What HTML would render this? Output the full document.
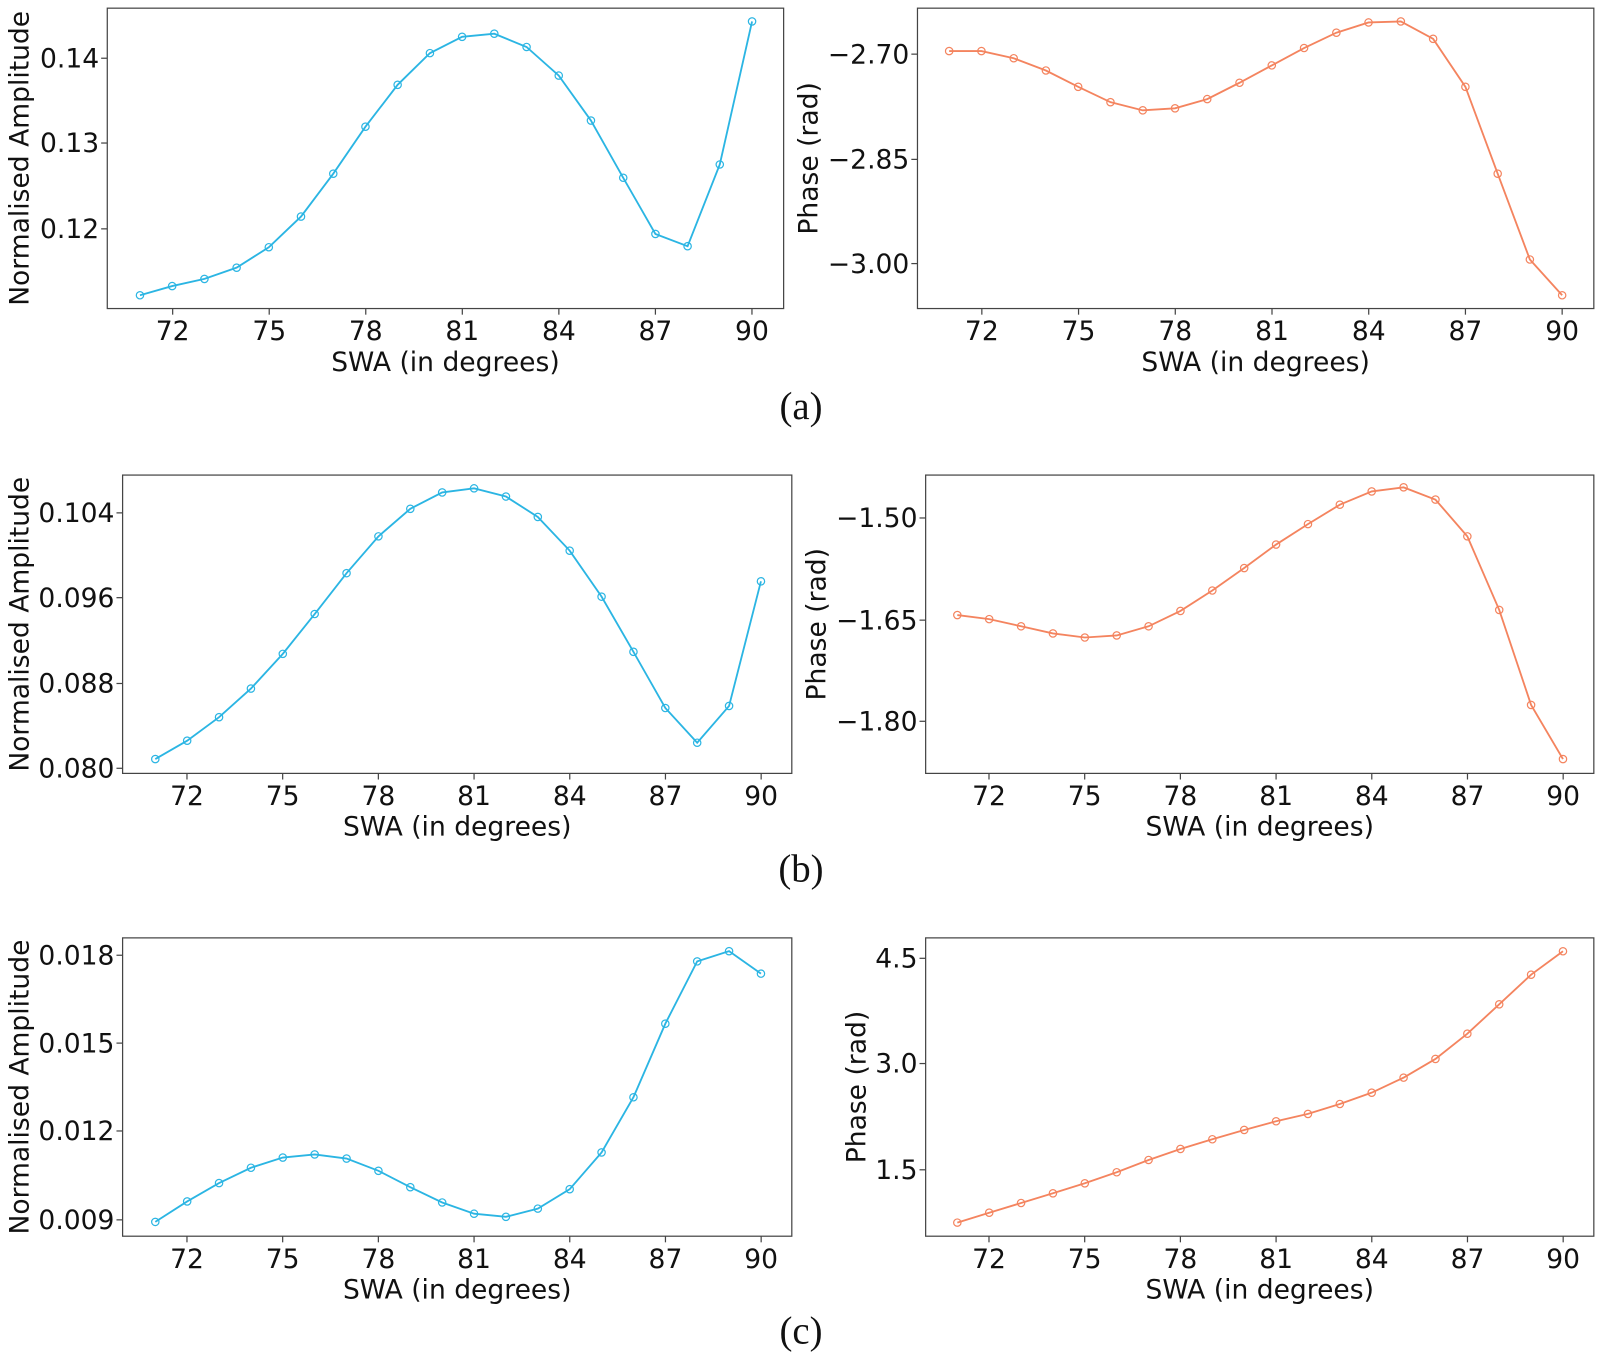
<!DOCTYPE html>
<html><head><meta charset="utf-8"><style>
html,body{margin:0;padding:0;background:#fff;}
svg{display:block;}
text{font-family:"DejaVu Sans","Liberation Sans",sans-serif;fill:#111;}
</style></head><body>
<svg id="s" width="1602" height="1354" viewBox="0 0 1568 1325.3" preserveAspectRatio="none" xmlns="http://www.w3.org/2000/svg"></svg>
<script>
const S=document.getElementById('s');let h='';
function panel(p){
 const {x0,x1,y0,y1,px0,step,ys,col,xt72,xt90,yt,ylab,ylx}=p;
 h+=`<rect x="${x0}" y="${y0}" width="${x1-x0}" height="${y1-y0}" fill="none" stroke="#444" stroke-width="1.2"/>`;
 for(let i=0;i<7;i++){const v=72+3*i;const x=xt72+(xt90-xt72)*i/6;
  h+=`<line x1="${x}" y1="${y1}" x2="${x}" y2="${y1+6}" stroke="#444" stroke-width="1.2"/>`;
  h+=`<text x="${x}" y="${y1+31}" font-size="26" text-anchor="middle">${v}</text>`;}
 for(const [lab,y] of yt){h+=`<line x1="${x0-6}" y1="${y}" x2="${x0}" y2="${y}" stroke="#444" stroke-width="1.2"/>`;
  h+=`<text x="${x0-8}" y="${y+9}" font-size="26" text-anchor="end">${lab}</text>`;}
 h+=`<text x="${(x0+x1)/2}" y="${y1+61}" font-size="26" text-anchor="middle">SWA (in degrees)</text>`;
 const cy=(y0+y1)/2;
 h+=`<text transform="translate(${ylx},${cy}) rotate(-90)" font-size="26" text-anchor="middle">${ylab}</text>`;
 let pts=ys.map((y,i)=>`${(px0+step*i).toFixed(1)},${y}`).join(' ');
 h+=`<polyline points="${pts}" fill="none" stroke="${col}" stroke-width="1.8"/>`;
 ys.forEach((y,i)=>{h+=`<circle cx="${(px0+step*i).toFixed(1)}" cy="${y}" r="3.6" fill="none" stroke="${col}" stroke-width="1.2"/>`;});
}
const B='#2bb5e3',O='#f4845f';
panel({x0:105,x1:767,y0:8,y1:302,px0:137,step:31.53,col:B,xt72:169,xt90:736,
 yt:[['0.14',57],['0.13',140],['0.12',224]],ylab:'Normalised Amplitude',ylx:28,
 ys:[289,280,273,262,242,212,170,124,83,52,36,33,46,74,118,174,229,241,161,21]});
panel({x0:898,x1:1560,y0:8,y1:302,px0:929,step:31.58,col:O,xt72:961,xt90:1529,
 yt:[['\u22122.70',53],['\u22122.85',156],['\u22123.00',258]],ylab:'Phase (rad)',ylx:800,
 ys:[50,50,57,69,85,100,108,106,97,81,64,47,32,22,21,38,85,170,254,289]});
panel({x0:120,x1:775,y0:465,y1:757,px0:152,step:31.2,col:B,xt72:183,xt90:745,
 yt:[['0.104',502],['0.096',585],['0.088',669],['0.080',752]],ylab:'Normalised Amplitude',ylx:28,
 ys:[743,725,702,674,640,601,561,525,498,482,478,486,506,539,584,638,693,727,691,569]});
panel({x0:906,x1:1560,y0:465,y1:757,px0:937,step:31.2,col:O,xt72:968,xt90:1530,
 yt:[['\u22121.50',507],['\u22121.65',607],['\u22121.80',706]],ylab:'Phase (rad)',ylx:808,
 ys:[602,606,613,620,624,622,613,598,578,556,533,513,494,481,477,489,525,597,690,743]});
panel({x0:120,x1:775,y0:918,y1:1210,px0:152,step:31.2,col:B,xt72:183,xt90:745,
 yt:[['0.018',935],['0.015',1021],['0.012',1107],['0.009',1194]],ylab:'Normalised Amplitude',ylx:28,
 ys:[1196,1176,1158,1143,1133,1130,1134,1146,1162,1177,1188,1191,1183,1164,1128,1074,1002,941,931,953]});
panel({x0:906,x1:1560,y0:918,y1:1210,px0:937,step:31.2,col:O,xt72:968,xt90:1530,
 yt:[['4.5',938],['3.0',1041],['1.5',1145]],ylab:'Phase (rad)',ylx:847,
 ys:[1196.7,1187,1177.5,1168,1158.2,1147.4,1135.4,1124.6,1115.1,1106,1097.5,1090.3,1080.6,1069.5,1054.8,1036.5,1011.8,983,954,931.1]});
[['(a)',410],['(b)',863],['(c)',1315]].forEach(([t,y])=>{h+=`<text x="784" y="${y}" font-size="38" text-anchor="middle" style="font-family:'Liberation Serif',serif">${t}</text>`;});
S.innerHTML=h;
</script>
</body></html>
